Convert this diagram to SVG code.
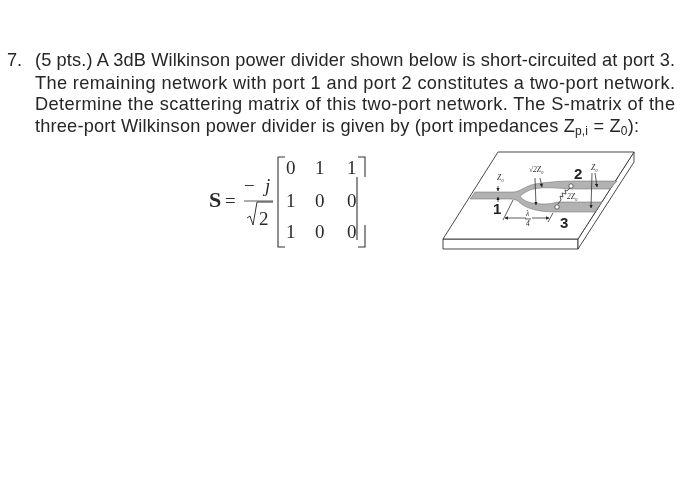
<svg xmlns="http://www.w3.org/2000/svg" width="700" height="484" viewBox="0 0 700 484">
<defs>
<filter id="soft" x="-5%" y="-5%" width="110%" height="110%"><feGaussianBlur stdDeviation="0.4"/></filter>
<marker id="ah" viewBox="0 0 6 6" refX="5.500" refY="3" markerWidth="4.500" markerHeight="4.500" orient="auto-start-reverse"><path d="M0 0L6 3L0 6Z" fill="#222"/></marker>
</defs>
<style>
.q{font-family:"Liberation Sans",Arial,sans-serif;font-size:18.2px;fill:#262626}
.m{font-family:"Liberation Serif","Times New Roman",serif;font-size:19px;fill:#2a2a2a}
.p{font-family:"Liberation Sans",Arial,sans-serif;font-weight:bold;font-size:15px;fill:#222}
.s{font-family:"Liberation Serif","Times New Roman",serif;font-style:italic;font-size:7.500px;fill:#333}
.b{fill:#fff;stroke:#333;stroke-width:.9;stroke-linejoin:round}
.l{fill:none;stroke:#333;stroke-width:.8}
.k{fill:none;stroke:#333;stroke-width:1.100}
.st{fill:#b2b2b2;stroke:#666;stroke-width:.5}
</style>
<rect width="700" height="484" fill="#fff"/>
<g id="question" filter="url(#soft)">
<text class="q" x="7" y="66">7.</text>
<text class="q" x="35" y="66" textLength="640" lengthAdjust="spacing">(5 pts.) A 3dB Wilkinson power divider shown below is short-circuited at port 3.</text>
<text class="q" x="35" y="89" textLength="640" lengthAdjust="spacing">The remaining network with port 1 and port 2 constitutes a two-port network.</text>
<text class="q" x="35" y="110" textLength="640" lengthAdjust="spacing">Determine the scattering matrix of this two-port network. The S-matrix of the</text>
<text class="q" x="35" y="131.500" textLength="604" lengthAdjust="spacing">three-port Wilkinson power divider is given by (port impedances Z<tspan font-size="12" dy="3">p,i</tspan><tspan dy="-3"> = Z</tspan><tspan font-size="12" dy="3">0</tspan><tspan dy="-3">):</tspan></text>
</g>
<g id="equation" filter="url(#soft)">
<text x="209" y="207" style="font-family:'Liberation Serif',serif;font-weight:bold;font-size:22px;fill:#2a2a2a">S</text>
<text class="m" x="225" y="207">=</text>
<text class="m" x="244" y="192">−</text>
<text class="m" x="265" y="192" font-style="italic">j</text>
<path class="l" d="M244 201H273" stroke-width="1"/>
<path d="M247 218l3 -2 3 9 4 -23H273" fill="none" stroke="#333" stroke-width="1"/>
<text class="m" x="259" y="225">2</text>
<path class="k" d="M285 157H278V247H285M358 157H365V177M365 225V247H358M357 177V240"/>
<text class="m" x="286" y="174">0</text><text class="m" x="315" y="174">1</text><text class="m" x="347" y="174">1</text>
<text class="m" x="286" y="207">1</text><text class="m" x="315" y="207">0</text><text class="m" x="347" y="207">0</text>
<text class="m" x="286" y="238">1</text><text class="m" x="315" y="238">0</text><text class="m" x="347" y="238">0</text>
</g>
<g id="divider" filter="url(#soft)">
<path class="b" d="M443 239H578V249H443Z"/>
<path class="b" d="M578 239L634 152V162L578 249Z"/>
<path class="b" d="M498 152H634L578 239H443Z"/>
<path class="st" d="M475 192H513C520 192 525 186 535 184C548 182 560 181 573 181H617L610 189H567C550 187 533 187 526 192C523 194 521 195 520 196C523 201 530 204 545 204C550 204 553 203 558 202H602L595 212H555C540 212 525 209 518 201C516 200 514 199 510 199H470Z"/>
<path class="l" d="M513 200L503 220"/>
<path class="l" d="M553 213L548 222"/>
<path class="l" d="M505 218H526M532 218H549" marker-start="url(#ah)" marker-end="url(#ah)"/>
<path class="l" d="M498 186V191" marker-end="url(#ah)"/>
<path class="l" d="M498 202V197" marker-end="url(#ah)"/>
<path class="l" d="M540 178L542 187" marker-end="url(#ah)"/>
<path class="l" d="M535 178L536 205" marker-end="url(#ah)"/>
<path class="l" d="M595 173L597 187" marker-end="url(#ah)"/>
<path class="l" d="M592 173L591 208" marker-end="url(#ah)"/>
<path d="M570 188L567 191L565 190L566 194L562 193L563 197L560 196L561 200L558 204" fill="none" stroke="#333" stroke-width=".8"/>
<circle cx="571" cy="186" r="2.200" fill="#fff" stroke="#333" stroke-width=".7"/>
<circle cx="557" cy="207" r="2.200" fill="#fff" stroke="#333" stroke-width=".7"/>
<text class="p" x="574" y="179">2</text>
<text class="p" x="493" y="214">1</text>
<text class="p" x="560" y="228">3</text>
<text class="s" x="497" y="180">Z₀</text>
<text class="s" x="529" y="172">√2Z₀</text>
<text class="s" x="591" y="170">Z₀</text>
<text class="s" x="567" y="199">2Z₀</text>
<text class="s" x="526" y="216">λ</text>
<path class="l" d="M525 219H531" stroke-width=".4"/>
<text class="s" x="526" y="226">4</text>
</g>
</svg>
